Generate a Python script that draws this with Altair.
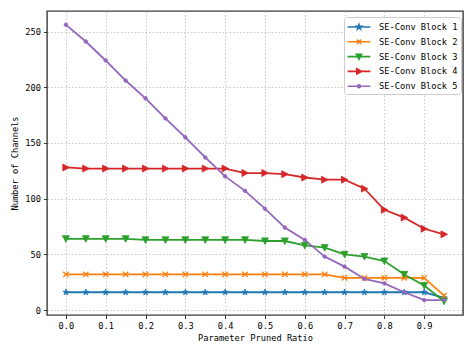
import altair as alt
import pandas as pd

ratio = [0.0, 0.05, 0.1, 0.15, 0.2, 0.25, 0.3, 0.35, 0.4, 0.45,
         0.5, 0.55, 0.6, 0.65, 0.7, 0.75, 0.8, 0.85, 0.9, 0.95]
block1 = [16, 16, 16, 16, 16, 16, 16, 16, 16, 16, 16, 16, 16, 16, 16, 16, 16, 16, 16, 11]
block2 = [32, 32, 32, 32, 32, 32, 32, 32, 32, 32, 32, 32, 32, 32, 29, 29, 29, 29, 29, 13]
block3 = [64, 64, 64, 64, 63, 63, 63, 63, 63, 63, 62, 62, 58, 56, 50, 48, 44, 32, 22, 8]
block4 = [128, 127, 127, 127, 127, 127, 127, 127, 127, 123, 123, 122, 119, 117, 117, 109, 90, 83, 73, 68]
block5 = [256, 241, 224, 206, 190, 172, 155, 137, 120, 107, 91, 74, 63, 48, 39, 28, 24, 16, 9, 9]

names = ["SE-Conv Block 1", "SE-Conv Block 2", "SE-Conv Block 3", "SE-Conv Block 4", "SE-Conv Block 5"]
colors = ["#1f77b4", "#ff7f0e", "#2ca02c", "#d62728", "#9467bd"]
x_ticks = [0.0, 0.1, 0.2, 0.3, 0.4, 0.5, 0.6, 0.7, 0.8, 0.9]
y_ticks = [0, 50, 100, 150, 200, 250]

series = [block1, block2, block3, block4, block5]
rows = []
for name, vals in zip(names, series):
    for xv, yv in zip(ratio, vals):
        rows.append({"ratio": xv, "channels": yv, "series": name})
df = pd.DataFrame(rows)

FONT = "DejaVu Sans Mono"
FS = 8.7

# marker shapes (plot)
star = "M0,-1L0.2245,-0.309L0.9511,-0.309L0.3633,0.118L0.5878,0.809L0,0.382L-0.5878,0.809L-0.3633,0.118L-0.9511,-0.309L-0.2245,-0.309Z"
xmark = "M-0.85,-0.85L0.85,0.85M-0.85,0.85L0.85,-0.85"
tri_down = "M-0.9,-0.8L0.9,-0.8L0,0.9Z"
tri_right = "M-0.8,-0.9L0.9,0L-0.8,0.9Z"
marker_shapes = [star, xmark, tri_down, tri_right, "circle"]
marker_sizes = [42, 40, 60, 60, 13]
marker_filled = [True, False, True, True, True]

# legend symbols (line + small marker)
def scale_path(p, s):
    out = []
    num = ""
    for ch in p:
        if ch in "-0123456789.":
            num += ch
        else:
            if num:
                out.append(str(round(float(num) * s, 3)))
                num = ""
            out.append(ch)
    if num:
        out.append(str(round(float(num) * s, 3)))
    return "".join(out)

line_seg = "M-1.9,0L1.9,0"
leg_paths = [
    line_seg + scale_path(star, 0.42),
    line_seg + scale_path(xmark, 0.42),
    line_seg + scale_path(tri_down, 0.48),
    line_seg + scale_path(tri_right, 0.48),
    line_seg + "M-0.25,0A0.25,0.25 0 1,0 0.25,0A0.25,0.25 0 1,0 -0.25,0Z",
]
expr = "'" + leg_paths[-1] + "'"
for name, p in reversed(list(zip(names[:-1], leg_paths[:-1]))):
    expr = "datum.value === '" + name + "' ? '" + p + "' : " + expr

xscale = alt.Scale(domain=[-0.0475, 0.9975], nice=False, zero=False)
yscale = alt.Scale(domain=[-4.4, 268.4], nice=False, zero=False)
xaxis = alt.Axis(values=x_ticks, format=".1f", title="Parameter Pruned Ratio", titlePadding=3)
yaxis = alt.Axis(values=y_ticks, format="d", title="Number of Channels", titlePadding=5)

legend = alt.Legend(
    title=None, orient="none", legendX=297, legendY=6,
    symbolType=alt.ExprRef(expr=expr),
    symbolFillColor=alt.ExprRef(expr="scale('color', datum.value)"),
    symbolSize=144, symbolStrokeWidth=1.6, symbolOpacity=1,
    symbolOffset=5, labelOffset=13,
    labelFont=FONT, labelFontSize=FS, labelColor="black",
    fillColor="white", strokeColor="#cccccc", cornerRadius=3,
    padding=3, rowPadding=1.8,
)

base = alt.Chart(df)
lines = base.mark_line(strokeWidth=1.8).encode(
    x=alt.X("ratio:Q", scale=xscale, axis=xaxis),
    y=alt.Y("channels:Q", scale=yscale, axis=yaxis),
    color=alt.Color("series:N", scale=alt.Scale(domain=names, range=colors), legend=legend),
    order=alt.Order("ratio:Q"),
)

layers = [lines]
for name, col, shp, sz, fl in zip(names, colors, marker_shapes, marker_sizes, marker_filled):
    if fl:
        mk = base.mark_point(shape=shp, size=sz, filled=True, fill=col, stroke=col,
                             strokeWidth=0.8, opacity=1)
    else:
        mk = base.mark_point(shape=shp, size=sz, filled=False, stroke=col,
                             strokeWidth=1.3, opacity=1)
    layers.append(
        mk.encode(
            x=alt.X("ratio:Q", scale=xscale),
            y=alt.Y("channels:Q", scale=yscale),
        ).transform_filter(alt.datum.series == name)
    )

chart = alt.layer(*layers).properties(
    width=416, height=304,
    autosize=alt.AutoSizeParams(type="none"),
    padding={"left": 47, "top": 11, "right": 11, "bottom": 40},
    background="white",
).configure_view(
    stroke="#3a3a3a", strokeWidth=1.4
).configure_axis(
    domain=False,
    grid=True, gridColor="#b8b8b8", gridDash=[1.5, 2], gridWidth=0.8,
    ticks=True, tickColor="#222222", tickSize=3.5, tickWidth=0.9,
    labelFont=FONT, labelFontSize=FS, labelColor="black", labelPadding=3,
    titleFont=FONT, titleFontSize=FS, titleFontWeight="normal", titleColor="black",
)

chart.save("out.html", embed_options={"renderer": "svg", "actions": False})
